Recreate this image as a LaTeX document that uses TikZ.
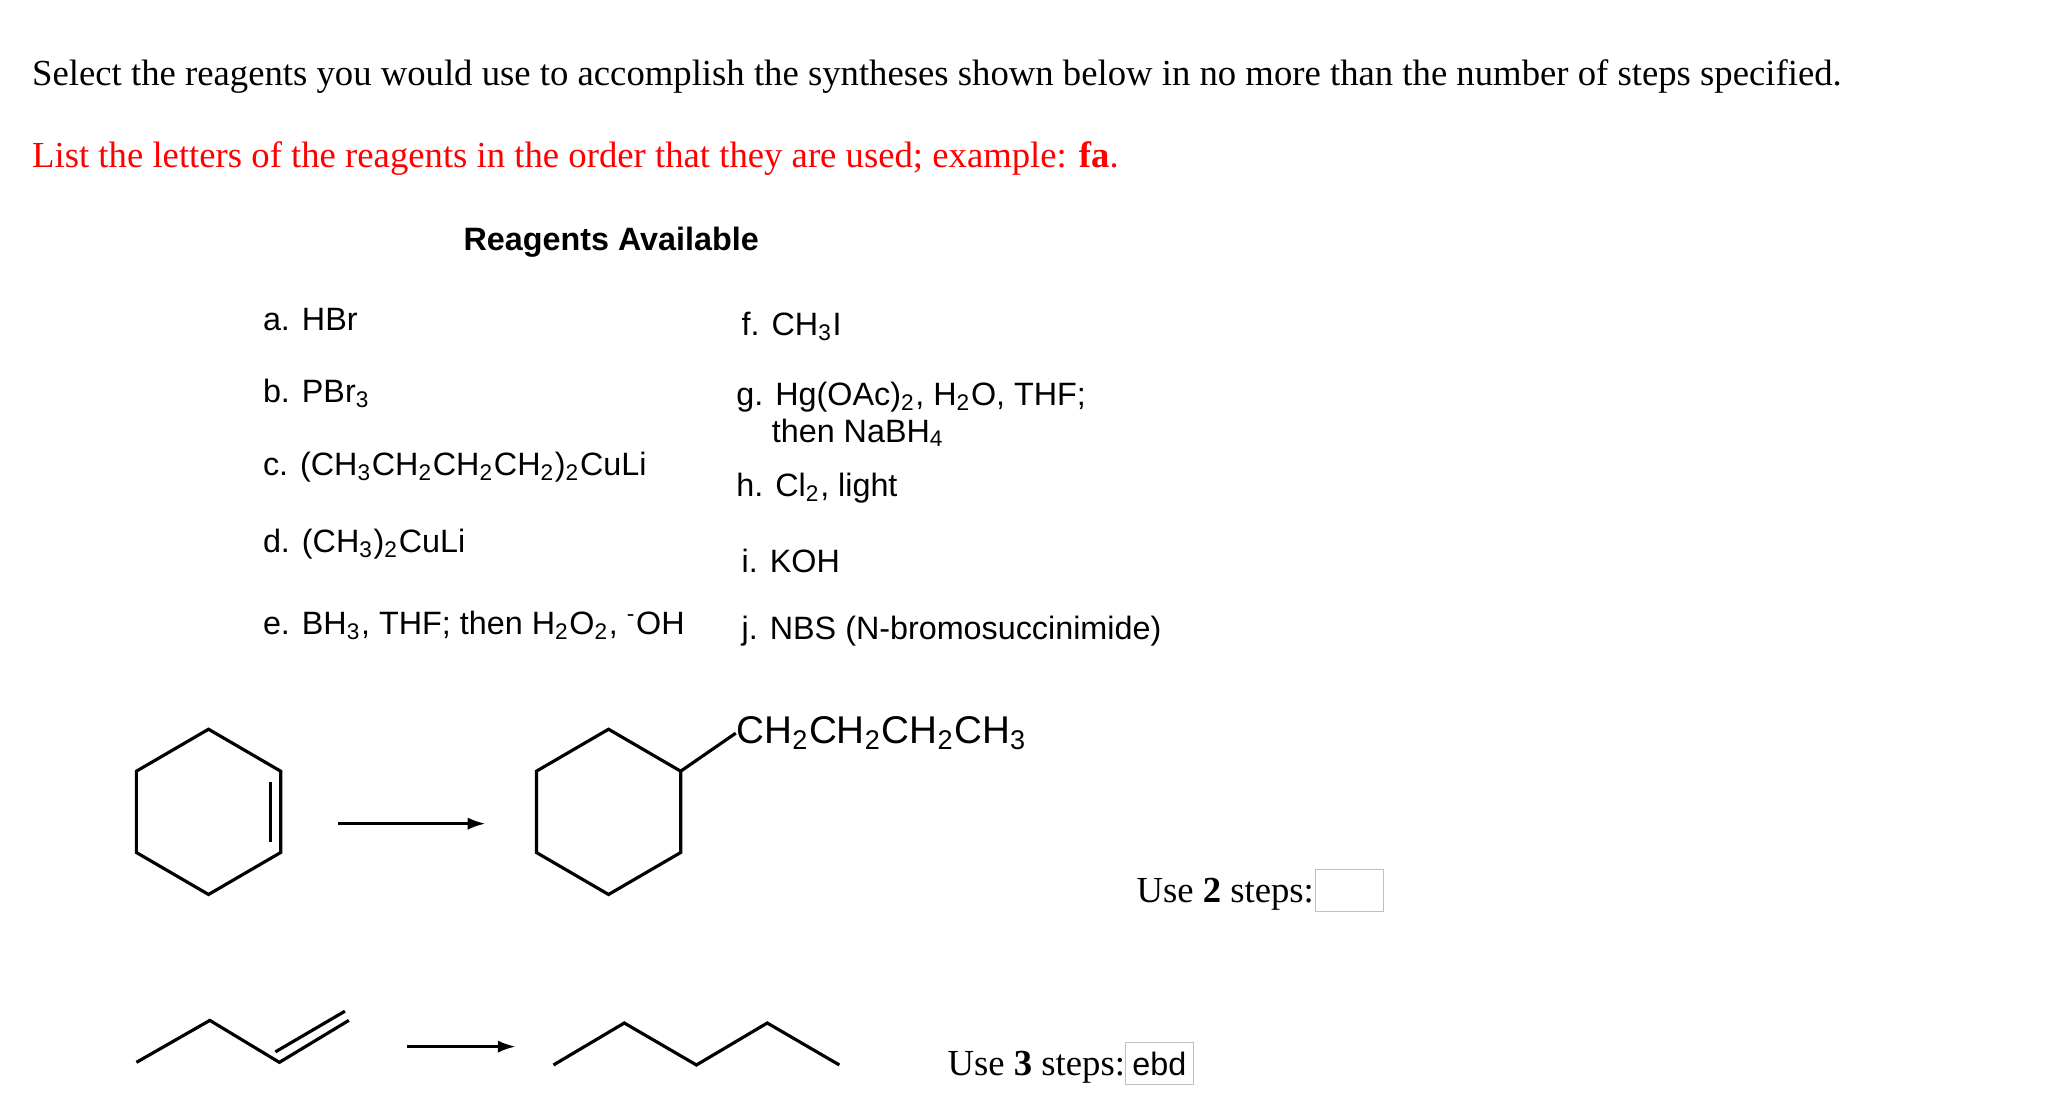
\documentclass[tikz,border=0pt]{standalone}
\usepackage{fontspec}
\setmainfont{Liberation Serif}
\setsansfont{Liberation Sans}
\usetikzlibrary{arrows.meta}
\begin{document}
\begin{tikzpicture}[x=0.013115cm,y=-0.013115cm,
  serif/.style={anchor=base west,inner sep=0,font=\fontsize{10.45}{12}\selectfont},
  reag/.style={anchor=west,inner sep=0,font=\sffamily\fontsize{9.2}{11}\selectfont},
  bond/.style={line width=0.9pt,line join=miter},
  rxn/.style={line width=0.7pt,-{Latex[length=5pt,width=3.5pt]}},
  ansbox/.style={draw=black!25,minimum width=0.68cm,minimum height=0.42cm,inner sep=1pt,font=\sffamily\fontsize{9.2}{11}\selectfont}]
\useasboundingbox (0,0) rectangle (1560,851);
\node[serif] (t1) at (24,65) {Select the reagents you would use to accomplish the syntheses shown below in no more than the number of steps specified.};
\node[serif,text=red] (t2) at (24,128) {List the letters of the reagents in the order that they are used; example: \textbf{fa}.};
\node[reag,anchor=center,font=\sffamily\bfseries\fontsize{9.2}{11}\selectfont] (ra) at (466,185) {Reagents Available};
\node[reag] (a) at (200,244) {a. HBr};
\node[reag] (b) at (200,300) {b. PBr\textsubscript{3}};
\node[reag] (c) at (200,356) {c. (CH\textsubscript{3}CH\textsubscript{2}CH\textsubscript{2}CH\textsubscript{2})\textsubscript{2}CuLi};
\node[reag] (d) at (200,415) {d. (CH\textsubscript{3})\textsubscript{2}CuLi};
\node[reag] (e) at (200,477) {e. BH\textsubscript{3}, THF; then H\textsubscript{2}O\textsubscript{2}, \textsuperscript{-}OH};
\node[reag] (f) at (565,249) {f. CH\textsubscript{3}I};
\node[reag] (g) at (561,303) {g. Hg(OAc)\textsubscript{2}, H\textsubscript{2}O, THF;};
\node[reag] (g2) at (588,330) {then NaBH\textsubscript{4}};
\node[reag] (h) at (561,372) {h. Cl\textsubscript{2}, light};
\node[reag] (i) at (565,428) {i. KOH};
\node[reag] (j) at (565,481) {j. NBS (N-bromosuccinimide)};
% cyclohexene
\draw[bond] (159,556)--(214,588)--(214,650)--(159,682)--(104,650)--(104,588)--cycle;
\draw[bond] (206,596)--(206,642);
\coordinate (a1s) at (258,628); \coordinate (a1e) at (370,628);
\draw[rxn] (a1s)--(a1e);
% product
\draw[bond] (464,556)--(519,588)--(519,650)--(464,682)--(409,650)--(409,588)--cycle;
\node[reag,anchor=west,font=\sffamily\fontsize{11}{13}\selectfont] (chain) at (561,559) {CH\textsubscript{2}CH\textsubscript{2}CH\textsubscript{2}CH\textsubscript{3}};
\draw[bond] (519,588)--(chain.west);
\node[serif] (u2) at (866,688) {Use \textbf{2} steps:};
\node[ansbox] (box1) at (1029,679) {};
% bottom
\draw[bond] (104,810)--(160,778)--(213,810)--(266,778);
\draw[bond] (210,802)--(263,771);
\coordinate (a2s) at (310,798); \coordinate (a2e) at (393,798);
\draw[rxn] (a2s)--(a2e);
\draw[bond] (422,812)--(476,780)--(531,812)--(585,780)--(640,812);
\node[serif] (u3) at (722,820) {Use \textbf{3} steps:};
\node[ansbox] (box2) at (884,811) {ebd};
\end{tikzpicture}
\end{document}
